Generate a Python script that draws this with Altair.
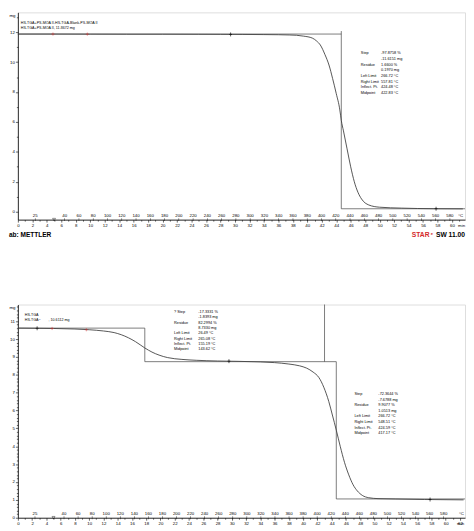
import altair as alt
import pandas as pd

FONT = "Liberation Sans"
INK = "#2b2b2b"
RED = "#d42a2a"

# ---------------- values ----------------
# upper measurement: HS-TGA+PS-MOA II (blank corrected)
top_time = [0, 5, 10, 15, 20, 25, 28, 31, 34, 36, 37.5, 38.5, 39.5, 40.7, 41.3, 41.8, 42.45, 43.0, 43.5, 44.0,
            44.5, 44.7, 45.0, 45.5, 46.0, 46.5, 47.0, 47.5, 48.5, 50, 53, 57.5, 61.5]
top_mass = [11.87, 11.87, 11.865, 11.86, 11.86, 11.855, 11.85, 11.845, 11.835, 11.825, 11.81, 11.79, 11.73, 11.6,
            11.4, 11.14, 10.49, 9.8, 8.9, 7.9, 6.8, 6.1, 5.4, 4.2, 3.0, 2.0, 1.3, 0.85, 0.45, 0.3, 0.24, 0.2, 0.19]
top_level_before = 11.87
top_level_after = 0.197
top_step_time = 44.7
top_red_time = [4.85, 9.6]
top_red_mass = [11.87, 11.865]
top_limit_time = [29.4, 57.8]
top_limit_mass = [11.845, 0.2]
top_legend = ["HS-TGA+PS-MOA II-HS-TGA-Blank-PS-MOA II", "HS-TGA+PS-MOA II, 11.8672 mg"]
top_ann_labels = ["Step", "", "Residue", "", "Left Limit", "Right Limit", "Inflect. Pt.", "Midpoint"]
top_ann_values = ["-97.8758 %", "-11.6151 mg", "1.6600 %", "0.1970 mg",
                  "266.72 °C", "557.81 °C", "424.48 °C", "422.83 °C"]

# lower measurement: HS-TGA
bot_time = [0, 2.7, 5, 8, 10, 12, 13.5, 14.5, 15.5, 16.5, 17.8, 18.8, 19.8, 21, 23, 25, 28, 31, 34, 36,
            38, 39.5, 40.5, 41.4, 42.2, 42.9, 43.6, 44.1, 44.65, 45.2, 45.8, 46.4, 47.0, 47.6, 48.3, 49.2, 50.5,
            53, 57, 62.5]
bot_mass = [10.61, 10.6, 10.59, 10.56, 10.52, 10.45, 10.36, 10.24, 10.07, 9.85, 9.5, 9.27, 9.1, 8.96, 8.86,
            8.81, 8.77, 8.75, 8.72, 8.68, 8.6, 8.5, 8.37, 8.15, 7.85, 7.3, 6.5, 5.75, 4.9, 4.0, 3.1, 2.4, 1.85,
            1.5, 1.25, 1.12, 1.07, 1.05, 1.02, 1.0]
bot_level_0 = 10.61
bot_level_1 = 8.733
bot_level_2 = 1.0513
bot_step1_time = 17.8
bot_step2_time = 44.65
bot_box_time = 43.0
bot_red_time = [4.8, 9.6]
bot_red_mass = [10.59, 10.52]
bot_limit_time = [2.7, 29.6, 57.8]
bot_limit_mass = [10.6, 8.76, 1.02]
bot_legend = ["HS-TGA", "HS-TGA~"]
bot_legend_mass = ", 10.6112 mg"
bot_ann1_labels = ["? Step", "", "Residue", "", "Left Limit", "Right Limit", "Inflect. Pt.", "Midpoint"]
bot_ann1_values = ["-17.3331 %", "-1.8393 mg", "82.2994 %", "8.7330 mg",
                   "26.49 °C", "265.08 °C", "155.19 °C", "143.62 °C"]
bot_ann2_labels = ["Step", "", "Residue", "", "Left Limit", "Right Limit", "Inflect. Pt.", "Midpoint"]
bot_ann2_values = ["-72.3644 %", "-7.6788 mg", "9.9077 %", "1.0513 mg",
                   "266.72 °C", "548.51 °C", "424.59 °C", "417.17 °C"]

temps = [25] + list(range(40, 581, 20))
segment_markers = [5.0]


def temp_to_time(T):
    # 25 °C isothermal, then ~10 K/min ramp
    return 2.4 if T == 25 else 6.47 + (T - 40) * 0.0986


# ---------------- panel builder ----------------
def panel(curve_t, curve_m, xdom, ydom, height, y_vals, y_major, segs, red, lims, texts, unit_t, min_title_x):
    px_per_mg = height / (ydom[1] - ydom[0])
    xs = alt.Scale(domain=xdom, nice=False, zero=False)
    ys = alt.Scale(domain=ydom, nice=False, zero=False)
    xa = alt.Axis(values=list(range(0, 63)), labelExpr="datum.value % 2 === 0 ? datum.label : ''",
                  tickSize={"condition": {"test": "datum.value % 2 === 0", "value": 2.5}, "value": 1.5},
                  labelFontSize=4.4, labelFont=FONT, labelPadding=1, labelColor="black", labelFlush=False,
                  labelOverlap=False, labelBound=False, domainColor="black", domainWidth=0.8,
                  tickColor="black", tickWidth=0.6, grid=False, labelAngle=0,
                  title="min", titleX=min_title_x, titleY=3.5, titleBaseline="top", titleAlign="center",
                  titleFontSize=4.4, titleFontWeight="normal", titleFont=FONT)
    ya = alt.Axis(values=y_vals,
                  labelExpr=f"{y_major} ? format(datum.value, '.0f') : ''",
                  tickSize={"condition": {"test": y_major, "value": 2.5}, "value": 1.5},
                  labelFontSize=4.4, labelFont=FONT, labelPadding=1, labelColor="black",
                  labelOverlap=False, labelBound=False, domainColor="black", domainWidth=0.8,
                  tickColor="black", tickWidth=0.6, grid=False,
                  title="mg", titleAngle=0, titleX=-3, titleY=1, titleAlign="right", titleBaseline="top",
                  titleFontSize=4.4, titleFontWeight="normal", titleFont=FONT)

    def X(f):
        return alt.X(f, type="quantitative", scale=xs, axis=xa)

    def Y(f):
        return alt.Y(f, type="quantitative", scale=ys, axis=ya)

    def YD(v):
        return alt.YDatum(v, type="quantitative", scale=ys, axis=ya)

    layers = []
    curve = pd.DataFrame({"t": curve_t, "m": curve_m})
    layers.append(alt.Chart(curve).mark_line(color=INK, strokeWidth=0.8, interpolate="monotone")
                  .encode(x=X("t"), y=Y("m")))
    sdf = pd.DataFrame(segs, columns=["t1", "m1", "t2", "m2"])
    layers.append(alt.Chart(sdf).mark_rule(color="#444", strokeWidth=0.7)
                  .encode(x=X("t1"), y=Y("m1"), x2="t2", y2="m2"))
    layers.append(alt.Chart(pd.DataFrame({"t": red[0], "m": red[1]}))
                  .mark_point(shape="M-1,0H1M0,-1V1", filled=False, color=RED, size=10, strokeWidth=0.7)
                  .encode(x=X("t"), y=Y("m")))
    layers.append(alt.Chart(pd.DataFrame({"t": lims[0], "m": lims[1]}))
                  .mark_point(shape="M-0.7,0H0.7M0,-1V1", filled=False, color="black", size=16, strokeWidth=0.9)
                  .encode(x=X("t"), y=Y("m")))
    # temperature scale drawn above the time axis
    tdf = pd.DataFrame({"T": temps, "t": [temp_to_time(T) for T in temps], "lab": [str(T) for T in temps]})
    layers.append(alt.Chart(tdf).mark_text(font=FONT, fontSize=4.4, baseline="alphabetic", dy=-2.3, color="black")
                  .encode(x=X("t"), y=YD(ydom[0]), text="lab:N"))
    layers.append(alt.Chart(tdf).mark_tick(orient="vertical", size=3, thickness=0.6, color="black")
                  .encode(x=X("t"), y=YD(ydom[0])))
    layers.append(alt.Chart(pd.DataFrame({"t": [unit_t], "lab": ["°C"]}))
                  .mark_text(font=FONT, fontSize=4.4, baseline="alphabetic", dy=-2.3, color="black")
                  .encode(x=X("t"), y=YD(ydom[0]), text="lab:N"))
    layers.append(alt.Chart(pd.DataFrame({"t": segment_markers}))
                  .mark_point(shape="triangle-down", filled=False, color="black", size=9, strokeWidth=0.6)
                  .encode(x=X("t"), y=YD(ydom[0])))
    for tx in texts:
        lines = tx["s"] if isinstance(tx["s"], list) else [tx["s"]]
        lh_mg = tx.get("lh", 5.7) / px_per_mg
        df = pd.DataFrame({"t": [tx["t"]] * len(lines),
                           "m": [tx["m"] - i * lh_mg for i in range(len(lines))],
                           "s": lines})
        df = df[df["s"] != ""]
        kw = dict(font=FONT, fontSize=tx.get("size", 3.9), align=tx.get("align", "left"),
                  baseline=tx.get("baseline", "top"), color=tx.get("color", "black"),
                  dx=tx.get("dx", 0), dy=tx.get("dy", 0), fontWeight=tx.get("weight", "normal"))
        layers.append(alt.Chart(df).mark_text(**kw).encode(x=X("t"), y=Y("m"), text="s:N"))
    return alt.layer(*layers).properties(width=453, height=height)


# ---------------- upper panel ----------------
top_xdom = [0, 61.8]
top_ydom = [-0.53, 13.32]
top_segs = [
    (0, top_level_before, top_step_time, top_level_before),
    (top_step_time, top_level_before + 0.2, top_step_time, top_level_after),
    (top_step_time, top_level_after, top_xdom[1], top_level_after),
]
top_texts = [
    dict(t=0.4, m=12.73, s=top_legend, size=3.7, lh=5.0),
    dict(t=47.4, m=10.71, s=top_ann_labels),
    dict(t=50.2, m=10.71, s=top_ann_values),
    dict(t=top_xdom[0], m=-1.59, s="ab: METTLER", size=6.6, weight="bold", dx=-9, baseline="middle"),
    dict(t=top_xdom[1], m=-1.59, s="STAR", size=6.8, weight="bold", color=RED, align="right", dx=-36,
         baseline="middle"),
    dict(t=top_xdom[1], m=-1.59, s="e", size=4.2, weight="bold", color=RED, align="right", dx=-32.5,
         dy=-2, baseline="middle"),
    dict(t=top_xdom[1], m=-1.59, s="SW 11.00", size=6.8, weight="bold", align="right", baseline="middle"),
]
top = panel(top_time, top_mass, top_xdom, top_ydom, 210, list(range(0, 14)), "datum.value % 2 === 0",
            top_segs, (top_red_time, top_red_mass), (top_limit_time, top_limit_mass), top_texts, 61.2, 449)

# ---------------- lower panel ----------------
bot_xdom = [0, 62.7]
bot_ydom = [0, 11.93]
bot_segs = [
    (0, bot_level_0, bot_step1_time, bot_level_0),
    (bot_step1_time, bot_level_0, bot_step1_time, bot_level_1),
    (bot_step1_time, bot_level_1, bot_step2_time, bot_level_1),
    (bot_box_time, bot_ydom[1], bot_box_time, bot_level_1),
    (bot_step2_time, bot_level_1, bot_step2_time, bot_level_2),
    (bot_step2_time, bot_level_2, bot_xdom[1], bot_level_2),
]
bot_texts = [
    dict(t=0.97, m=11.43, s=bot_legend, size=3.7, lh=4.8),
    dict(t=4.3, m=11.165, s=bot_legend_mass, size=3.7),
    dict(t=21.9, m=11.63, s=bot_ann1_labels, lh=5.4),
    dict(t=25.3, m=11.63, s=bot_ann1_values, lh=5.4),
    dict(t=47.2, m=7.04, s=bot_ann2_labels),
    dict(t=50.55, m=7.04, s=bot_ann2_values),
]
bot = panel(bot_time, bot_mass, bot_xdom, bot_ydom, 216, [round(i * 0.2, 1) for i in range(0, 60)],
            "abs(datum.value - round(datum.value)) < 0.01",
            bot_segs, (bot_red_time, bot_red_mass), (bot_limit_time, bot_limit_mass), bot_texts, 62.2, 448)

chart = alt.vconcat(top, bot, spacing=86, bounds="flush", padding=0).configure_view(
    stroke="#9a9a9a", strokeWidth=1.2).configure(background="white")

chart.save("out.html", embed_options={"renderer": "svg", "actions": False})
